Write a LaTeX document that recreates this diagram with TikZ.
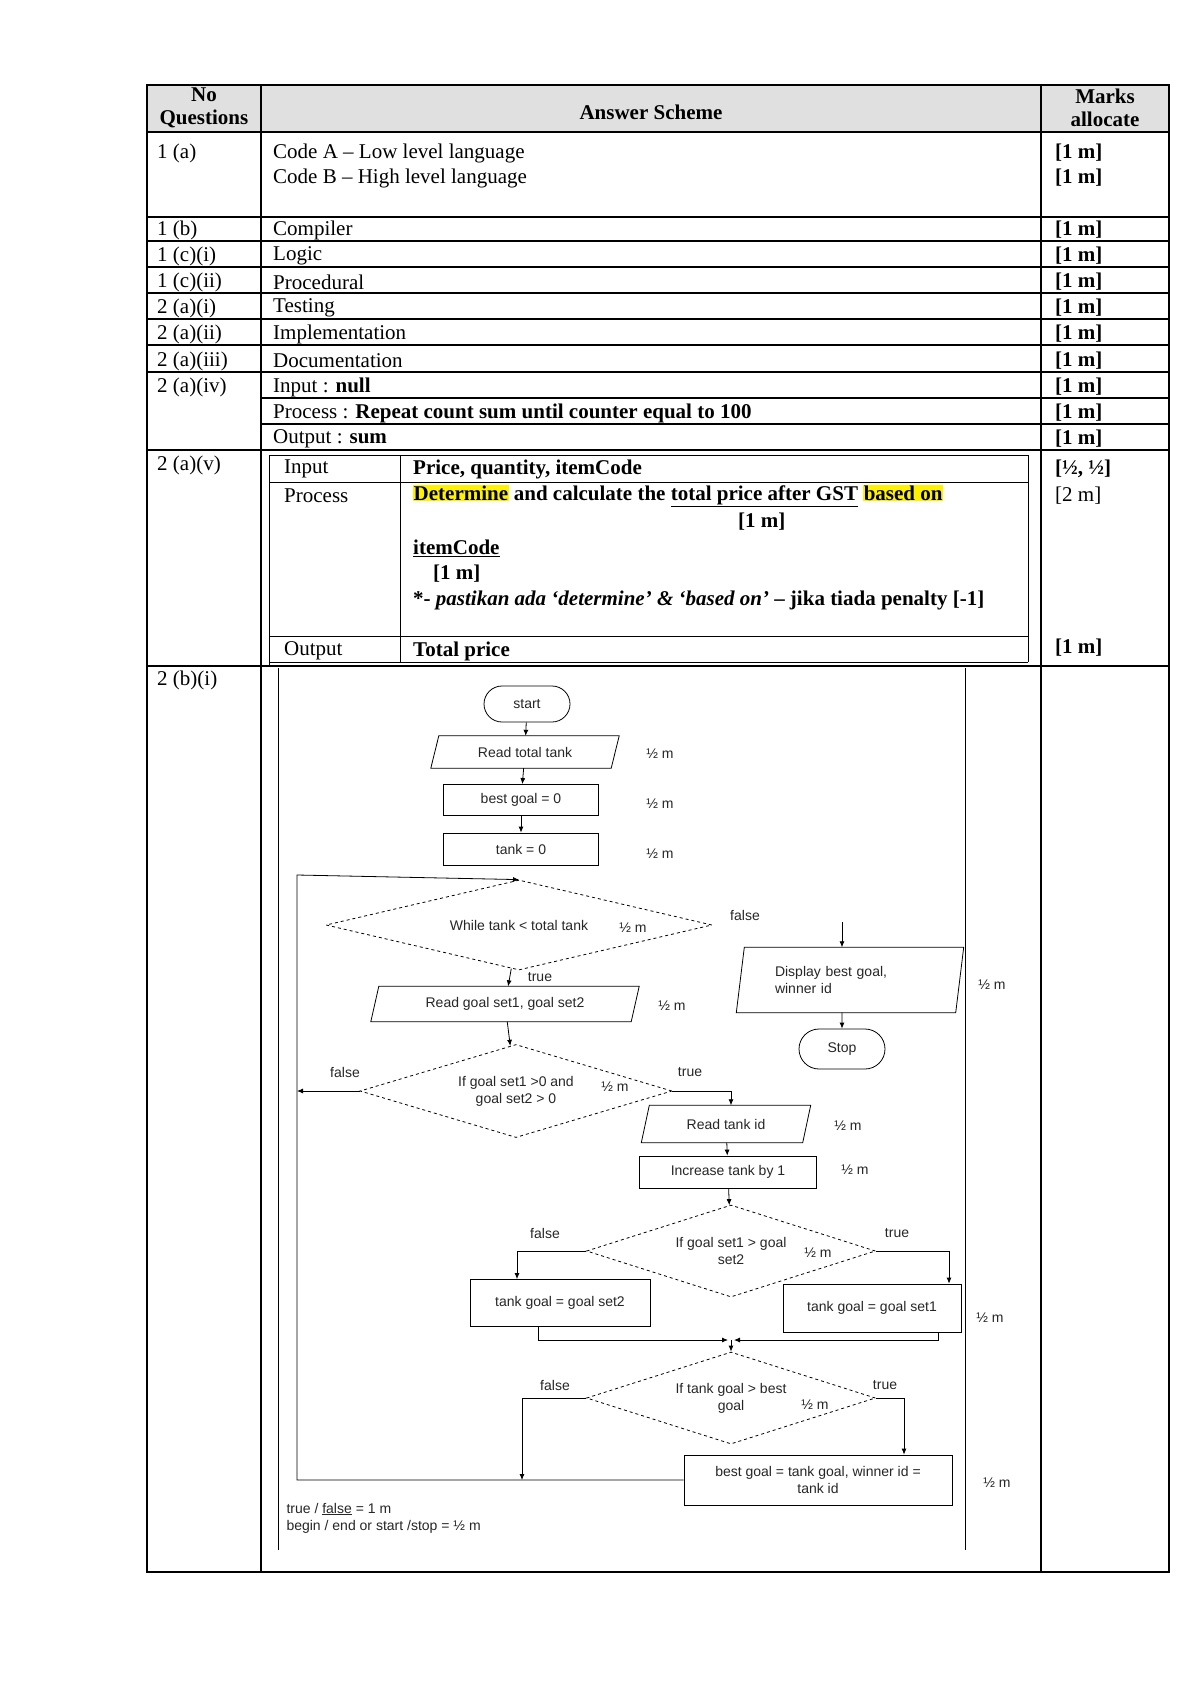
\documentclass[tikz,border=0pt]{standalone}
\usepackage{fontspec}
\setmainfont{Liberation Serif}
\setsansfont{Liberation Sans}
\usetikzlibrary{shapes.geometric,shapes.misc,arrows.meta}
\begin{document}
\begin{tikzpicture}[x=1pt,y=-1pt,
  tl/.style={anchor=west,inner sep=0pt,font=\fontsize{21}{23}\selectfont},
  th/.style={anchor=center,inner sep=0pt,font=\fontsize{21}{23}\selectfont\bfseries,align=center},
  fc/.style={font=\sffamily\fontsize{14}{17}\selectfont,text=black!85},
  box/.style={draw,thick,fc},
  io/.style={fc,inner sep=0pt,align=center},
  dia/.style={draw,thick,dashed,fc,diamond,aspect=4,inner sep=0pt,align=center},
  term/.style={draw,thick,fc,rounded rectangle,inner sep=0pt},
  ar/.style={-{Latex[length=6pt,width=5pt]},thick},
  ln/.style={thick}]
\useasboundingbox (0,0) rectangle (1200,1696);
\fill[black!12] (147,85) rectangle (1169,132);
% table grid
\draw[line width=1.3pt] (147,85) rectangle (1169,1572);
\foreach \y in {132,217,241,267,293,319,345,372,450,666}
  \draw[line width=1.3pt] (147,\y) -- (1169,\y);
\draw[line width=1.3pt] (261,85) -- (261,1572);
\draw[line width=1.3pt] (1041,85) -- (1041,1572);
\draw[line width=1.1pt] (261,398) -- (1169,398) (261,424) -- (1169,424);
% inner table
\draw[thick] (269,455) -- (269,666) (400,455) -- (400,662) (1028,455) -- (1028,662);
\draw[thick] (269,455) -- (1028,455) (269,482) -- (1028,482) (269,636) -- (1028,636) (269,662) -- (1028,662);
% header
\node[th] (h1) at (204,108) {No\\Questions};
\node[th] (h2) at (651,112) {Answer Scheme};
\node[th] (h3) at (1105,108) {Marks\\allocate};
% col1
\foreach \t/\y [count=\i] in {1 (a)/153,1 (b)/230,1 (c)(i)/256,1 (c)(ii)/282,2 (a)(i)/308,2 (a)(ii)/334,2 (a)(iii)/361,2 (a)(iv)/387,2 (a)(v)/465,2 (b)(i)/680}
  \node[tl] (q\i) at (157,\y) {\t};
% col2
\node[tl] (a1) at (273,153) {Code A -- Low level language};
\node[tl] (a2) at (273,178) {Code B -- High level language};
\node[tl] (a3) at (273,230) {Compiler};
\node[tl] (a4) at (273,256) {Logic};
\node[tl] (a5) at (273,282) {Procedural};
\node[tl] (a6) at (273,308) {Testing};
\node[tl] (a7) at (273,334) {Implementation};
\node[tl] (a8) at (273,361) {Documentation};
\node[tl] (a9) at (273,387) {Input : \textbf{null}};
\node[tl] (a10) at (273,413) {Process : \textbf{Repeat count sum until counter equal to 100}};
\node[tl] (a11) at (273,439) {Output : \textbf{sum}};
\node[tl] (b1) at (284,469) {Input};
\node[tl] (b2) at (413,469) {\textbf{Price, quantity, itemCode}};
\node[tl] (b3) at (284,496) {Process};
\node[tl] (b4) at (413,496) {\bfseries\setlength{\fboxsep}{0.5pt}\colorbox{yellow}{Determine} and calculate the \underline{total price after GST} \colorbox{yellow}{based on}};
\node[tl] (b5) at (738,522) {\textbf{[1 m]}};
\node[tl] (b6) at (413,548) {\textbf{\underline{itemCode}}};
\node[tl] (b7) at (433,574) {\textbf{[1 m]}};
\node[tl] (b8) at (413,600) {\bfseries *- \textit{pastikan ada `determine' \& `based on'} -- jika tiada penalty [-1]};
\node[tl] (b9) at (284,651) {Output};
\node[tl] (b10) at (413,651) {\textbf{Total price}};
% col3
\foreach \y in {153,178,230,256,282,308,334,361,387,413,439,648}
  \node[tl] at (1055,\y) {\textbf{[1 m]}};
\node[tl] (m1) at (1055,469) {\textbf{[½, ½]}};
\node[tl] (m2) at (1055,496) {[2 m]};
% flowchart frame
\draw[thick] (278,668) -- (278,1550) (965,668) -- (965,1550);
% flowchart
\node[term,minimum width=86pt,minimum height=36pt] (st) at (527,704) {start};
\node[io,minimum width=188pt,minimum height=32pt] (rt) at (525,752) {Read total tank};
\node[box,minimum width=155pt,minimum height=31pt] (bg) at (521,800) {best goal = 0};
\node[box,minimum width=155pt,minimum height=32pt] (t0) at (521,849) {tank = 0};
\node[dia,minimum width=386pt,minimum height=90pt] (wh) at (519,925) {While tank < total tank};
\node[io,minimum width=268pt,minimum height=35pt] (rg) at (505,1004) {Read goal set1, goal set2};
\node[dia,minimum width=312pt,minimum height=93pt] (d2) at (516,1091) {If goal set1 >0 and\\goal set2 > 0};
\node[io,minimum width=169pt,minimum height=37pt] (rid) at (726,1124) {Read tank id};
\node[box,minimum width=177pt,minimum height=32pt] (inc) at (728,1172) {Increase tank by 1};
\node[dia,minimum width=289pt,minimum height=92pt] (d3) at (731,1251) {If goal set1 > goal\\set2};
\node[box,minimum width=180pt,minimum height=47pt] (tg2) at (560,1303) {tank goal = goal set2};
\node[box,minimum width=178pt,minimum height=48pt] (tg1) at (872,1308) {tank goal = goal set1};
\node[dia,minimum width=289pt,minimum height=92pt] (d4) at (731,1398) {If tank goal > best\\goal};
\node[box,minimum width=268pt,minimum height=50pt,align=center] (bb) at (818,1480) {best goal = tank goal, winner id =\\tank id};
\node[io,minimum width=227pt,minimum height=65pt,align=left,text width=150pt] (dp) at (850,980) {Display best goal,\\winner id};
\node[term,minimum width=86pt,minimum height=40pt] (sp) at (842,1049) {Stop};
\foreach \n in {rt,rg,rid,dp}
  \draw[thick] ([xshift=8pt]\n.north west) -- (\n.north east) -- ([xshift=-8pt]\n.south east) -- (\n.south west) -- cycle;
% marks
\foreach \n/\x/\y in {1/660/754,2/660/804,3/660/854,4/633/928,5/672/1006,6/615/1087,7/848/1126,8/855/1170,9/818/1253,10/990/1318,11/815/1405,12/997/1483,13/992/985}
  \node[fc] (hm\n) at (\x,\y) {½ m};
% labels
\node[fc] (lf1) at (745,915) {false};
\node[fc] (lt1) at (540,977) {true};
\node[fc] (lf2) at (345,1072) {false};
\node[fc] (lt2) at (690,1072) {true};
\node[fc] (lf3) at (545,1233) {false};
\node[fc] (lt3) at (897,1233) {true};
\node[fc] (lf4) at (555,1385) {false};
\node[fc] (lt4) at (885,1385) {true};
\node[fc,anchor=west,align=left] (foot) at (283,1518) {true / \underline{false} = 1 m\\begin / end or start /stop = ½ m};
% connectors
\draw[ar] (st) -- (rt);
\draw[ar] (rt) -- (bg);
\draw[ar] (bg) -- (t0);
\coordinate (lb) at (297,1480);
\draw[ar] (bb.west) -- (lb) -- (297,875) -- (wh.north);
\draw[ar] (wh) -- (rg);
\draw[ar] (rg) -- (d2);
\draw[ar] (d2.west) -- (297,1091);
\draw[ar] (d2.east) -| ([xshift=5pt]rid.north);
\draw[ar] (rid) -- (inc);
\draw[ar] (inc) -- (d3);
\draw[ar] (d3.west) -| ([xshift=-43pt]tg2.north);
\draw[ar] (d3.east) -| ([xshift=77pt]tg1.north);
\coordinate (mg) at (731,1340);
\draw[ar] ([xshift=-22pt]tg2.south) |- ([xshift=-3pt]mg);
\draw[ar] ([xshift=66pt]tg1.south) |- ([xshift=3pt]mg);
\draw[ar] (mg) -- (d4);
\draw[ar] (d4.west) -| (522,1480);
\draw[ar] (d4.east) -| ([xshift=86pt]bb.north);
\coordinate (ft) at (842,922);
\draw[ar] (ft) -- (dp.north -| sp);
\draw[ar] (dp.south -| sp) -- (sp);
\end{tikzpicture}
\end{document}
